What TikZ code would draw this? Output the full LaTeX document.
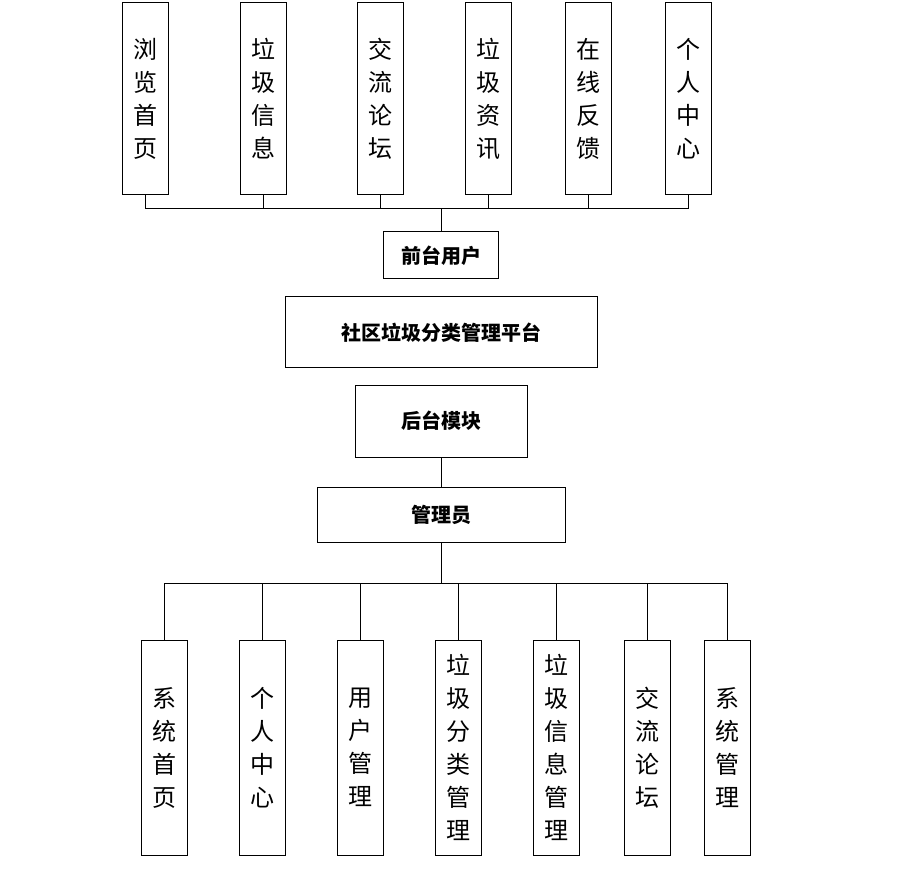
\documentclass[tikz,border=0pt]{standalone}
\usepackage{fontspec}
\newfontfamily\cjk{Noto Sans CJK SC}
\begin{document}
\begin{tikzpicture}[x=1pt,y=-1pt,
  vbox/.style={draw,line width=1pt,minimum width=46pt,minimum height=192pt,inner sep=0pt,align=center,font=\cjk\fontsize{24}{33}\selectfont},
  vboxb/.style={vbox,minimum height=215pt},
  hbox/.style={draw,line width=1pt,inner sep=0pt,font=\cjk\bfseries\fontsize{20}{24}\selectfont},
  ln/.style={line width=1pt}]
\useasboundingbox (0,0) rectangle (910,874);
\node[vbox] (t1) at (145,99) {浏\\览\\首\\页};
\node[vbox] (t2) at (263,99) {垃\\圾\\信\\息};
\node[vbox] (t3) at (380,99) {交\\流\\论\\坛};
\node[vbox] (t4) at (488,99) {垃\\圾\\资\\讯};
\node[vbox] (t5) at (588,99) {在\\线\\反\\馈};
\node[vbox] (t6) at (688,99) {个\\人\\中\\心};
\node[hbox,minimum width=115pt,minimum height=47pt] (fu) at (441,255.5) {前台用户};
\node[hbox,minimum width=312pt,minimum height=71pt] (pt) at (441,332.5) {社区垃圾分类管理平台};
\node[hbox,minimum width=172pt,minimum height=72pt] (hm) at (441,421) {后台模块};
\node[hbox,minimum width=248pt,minimum height=55pt] (gl) at (441,514.5) {管理员};
\node[vboxb] (b1) at (164,747.5) {系\\统\\首\\页};
\node[vboxb] (b2) at (262,747.5) {个\\人\\中\\心};
\node[vboxb] (b3) at (360,747.5) {用\\户\\管\\理};
\node[vboxb] (b4) at (458,747.5) {垃\\圾\\分\\类\\管\\理};
\node[vboxb] (b5) at (556,747.5) {垃\\圾\\信\\息\\管\\理};
\node[vboxb] (b6) at (647,747.5) {交\\流\\论\\坛};
\node[vboxb] (b7) at (727,747.5) {系\\统\\管\\理};
\coordinate (tb) at (441,209);
\coordinate (bb) at (441,583);
\draw[ln] (t1.south) |- (tb) (t6.south) |- (tb);
\foreach \n in {t2,t3,t4,t5} \draw[ln] (\n.south) -- (\n.south |- tb);
\draw[ln] (tb) -- (fu.north);
\draw[ln] (hm.south) -- (gl.north);
\draw[ln] (gl.south) -- (bb);
\draw[ln] (b1.north) |- (bb) (b7.north) |- (bb);
\foreach \n in {b2,b3,b4,b5,b6} \draw[ln] (\n.north) -- (\n.north |- bb);
\end{tikzpicture}
\end{document}
